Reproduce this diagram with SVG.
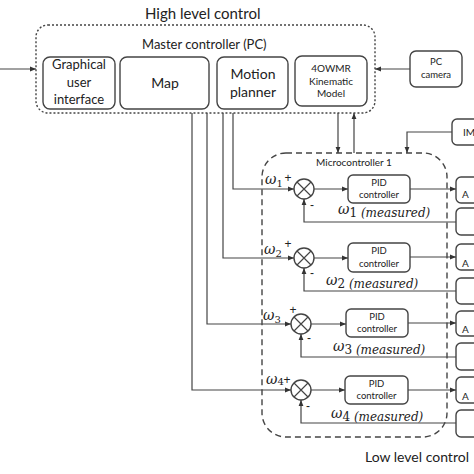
<svg xmlns="http://www.w3.org/2000/svg" width="474" height="474" viewBox="0 0 474 474">
<style>
.box{fill:#fff;stroke:#444;stroke-width:1.4}
.ln{fill:none;stroke:#444;stroke-width:1.2}
.t{font-family:Lato,"Liberation Sans",sans-serif;fill:#222;text-anchor:middle}
.s{font-family:Lato,"Liberation Sans",sans-serif;fill:#222}
.w{font-family:"DejaVu Serif",serif;font-style:italic;fill:#222}
.sub{font-style:normal}
.sign{font-family:"Liberation Sans",sans-serif;fill:#222;font-size:12px;text-anchor:middle}
</style>
<defs>
<marker id="a" viewBox="0 0 10 10" refX="10" refY="5" markerWidth="6" markerHeight="6" markerUnits="userSpaceOnUse" orient="auto"><path d="M0,1 L10,5 L0,9 z" fill="#333"/></marker>
</defs>
<rect width="474" height="474" fill="#fff"/>

<g id="high-level">
<text class="s" x="145" y="19" font-size="15">High level control</text>
<rect x="36" y="25" width="339" height="88" rx="12" fill="none" stroke="#444" stroke-width="1.4" stroke-dasharray="2 2"/>
<text class="s" x="142" y="49" font-size="13">Master controller (PC)</text>
</g>

<g id="gui">
<rect class="box" x="43" y="57" width="72" height="52" rx="7"/>
<text class="t" font-size="13"><tspan x="79" y="69">Graphical</tspan><tspan x="79" y="87">user</tspan><tspan x="79" y="104">interface</tspan></text>
</g>
<g id="map">
<rect class="box" x="120" y="57" width="89" height="52" rx="7"/>
<text class="t" x="165" y="88" font-size="14">Map</text>
</g>
<g id="motion-planner">
<rect class="box" x="217" y="57" width="71" height="52" rx="7"/>
<text class="t" font-size="14"><tspan x="253" y="79">Motion</tspan><tspan x="253" y="97">planner</tspan></text>
</g>
<g id="kinematic-model">
<rect class="box" x="295" y="56" width="72" height="50" rx="7"/>
<text class="t" font-size="10"><tspan x="331" y="71.5">4OWMR</tspan><tspan x="331" y="84.5">Kinematic</tspan><tspan x="331" y="97">Model</tspan></text>
</g>
<g id="pc-camera">
<rect class="box" x="410" y="51" width="52" height="36" rx="6"/>
<text class="t" font-size="9.5"><tspan x="436" y="65">PC</tspan><tspan x="436" y="78">camera</tspan></text>
</g>
<g id="imu">
<rect class="box" x="452" y="119" width="40" height="26" rx="5"/>
<text class="s" x="463" y="136" font-size="10">IM</text>
</g>

<g id="microcontroller">
<rect x="262" y="153" width="185" height="284" rx="24" fill="none" stroke="#444" stroke-width="1.4" stroke-dasharray="6 4"/>
<text class="t" x="354" y="166" font-size="10">Microcontroller 1</text>
</g>

<g id="pid1"><rect class="box" x="348" y="175" width="62" height="28" rx="5"/><text class="t" font-size="9.5"><tspan x="379" y="185.5">PID</tspan><tspan x="379" y="198">controller</tspan></text></g>
<g id="pid2"><rect class="box" x="348" y="243" width="62" height="29" rx="5"/><text class="t" font-size="9.5"><tspan x="379" y="254">PID</tspan><tspan x="379" y="266.5">controller</tspan></text></g>
<g id="pid3"><rect class="box" x="346" y="309" width="62" height="28" rx="5"/><text class="t" font-size="9.5"><tspan x="377" y="319.5">PID</tspan><tspan x="377" y="332">controller</tspan></text></g>
<g id="pid4"><rect class="box" x="345" y="376" width="63" height="28" rx="5"/><text class="t" font-size="9.5"><tspan x="376.5" y="386.5">PID</tspan><tspan x="376.5" y="399">controller</tspan></text></g>

<g id="sum1"><circle class="box" cx="304" cy="189" r="10"/><path class="ln" d="M297,182 L311,196 M311,182 L297,196"/></g>
<g id="sum2"><circle class="box" cx="304" cy="258" r="10"/><path class="ln" d="M297,251 L311,265 M311,251 L297,265"/></g>
<g id="sum3"><circle class="box" cx="301" cy="324" r="10"/><path class="ln" d="M294,317 L308,331 M308,317 L294,331"/></g>
<g id="sum4"><circle class="box" cx="301" cy="390" r="10"/><path class="ln" d="M294,383 L308,397 M308,383 L294,397"/></g>

<g id="actuator1"><rect class="box" x="456" y="177" width="40" height="26" rx="5"/><text class="s" x="462" y="198" font-size="10">A</text></g>
<g id="sensor1"><rect class="box" x="456" y="208" width="40" height="27" rx="5"/></g>
<g id="actuator2"><rect class="box" x="456" y="244" width="40" height="26" rx="5"/><text class="s" x="462" y="267" font-size="10">A</text></g>
<g id="sensor2"><rect class="box" x="456" y="278" width="40" height="26" rx="5"/></g>
<g id="actuator3"><rect class="box" x="456" y="311" width="40" height="25" rx="5"/><text class="s" x="462" y="333" font-size="10">A</text></g>
<g id="sensor3"><rect class="box" x="456" y="343" width="40" height="27" rx="5"/></g>
<g id="actuator4"><rect class="box" x="456" y="377" width="40" height="26" rx="5"/><text class="s" x="462" y="400" font-size="10">A</text></g>
<g id="sensor4"><rect class="box" x="456" y="410" width="40" height="27" rx="5"/></g>

<g id="connectors">
<path class="ln" d="M0,69 H36" marker-end="url(#a)"/>
<path class="ln" d="M410,69 H375" marker-end="url(#a)"/>
<path class="ln" d="M338,113 V153" marker-end="url(#a)"/>
<path class="ln" d="M354,153 V113" marker-end="url(#a)"/>
<path class="ln" d="M452,132 H407 V153" marker-end="url(#a)"/>
<path class="ln" d="M233,113 V189 H294" marker-end="url(#a)"/>
<path class="ln" d="M223,113 V258 H294" marker-end="url(#a)"/>
<path class="ln" d="M207,113 V324 H291" marker-end="url(#a)"/>
<path class="ln" d="M192,113 V390 H291" marker-end="url(#a)"/>
<path class="ln" d="M314,189 H348" marker-end="url(#a)"/>
<path class="ln" d="M314,258 H348" marker-end="url(#a)"/>
<path class="ln" d="M311,324 H346" marker-end="url(#a)"/>
<path class="ln" d="M311,390 H345" marker-end="url(#a)"/>
<path class="ln" d="M410,189 H456" marker-end="url(#a)"/>
<path class="ln" d="M410,257 H456" marker-end="url(#a)"/>
<path class="ln" d="M408,323 H456" marker-end="url(#a)"/>
<path class="ln" d="M408,390 H456" marker-end="url(#a)"/>
<path class="ln" d="M456,222 H304 V199" marker-end="url(#a)"/>
<path class="ln" d="M456,291 H304 V268" marker-end="url(#a)"/>
<path class="ln" d="M456,357 H301 V334" marker-end="url(#a)"/>
<path class="ln" d="M456,423 H301 V400" marker-end="url(#a)"/>
</g>

<g id="labels">
<text class="w" x="265" y="184" font-size="14">ω<tspan class="sub" font-size="10" dy="3">1</tspan></text>
<text class="sign" x="288" y="182">+</text>
<text class="sign" x="312" y="209">-</text>
<text class="w" x="338" y="214" font-size="14">ω<tspan class="sub" font-size="12" dy="3">1</tspan><tspan font-size="12"> (measured)</tspan></text>

<text class="w" x="264" y="254" font-size="14">ω<tspan class="sub" font-size="10" dy="3">2</tspan></text>
<text class="sign" x="288" y="248">+</text>
<text class="sign" x="312" y="277">-</text>
<text class="w" x="326" y="285" font-size="14">ω<tspan class="sub" font-size="12" dy="3">2</tspan><tspan font-size="12"> (measured)</tspan></text>

<text class="w" x="263" y="320" font-size="14">ω<tspan class="sub" font-size="10" dy="3">3</tspan></text>
<text class="sign" x="293" y="314">+</text>
<text class="sign" x="309" y="342">-</text>
<text class="w" x="333" y="351" font-size="14">ω<tspan class="sub" font-size="12" dy="3">3</tspan><tspan font-size="12"> (measured)</tspan></text>

<text class="w" x="266" y="384" font-size="14">ω<tspan class="sub" font-size="10" dy="1">4</tspan></text>
<text class="sign" x="287" y="384">+</text>
<text class="sign" x="308" y="410">-</text>
<text class="w" x="331" y="418" font-size="14">ω<tspan class="sub" font-size="12" dy="3">4</tspan><tspan font-size="12"> (measured)</tspan></text>

<text class="s" x="365" y="462" font-size="14">Low level control</text>
</g>
</svg>
